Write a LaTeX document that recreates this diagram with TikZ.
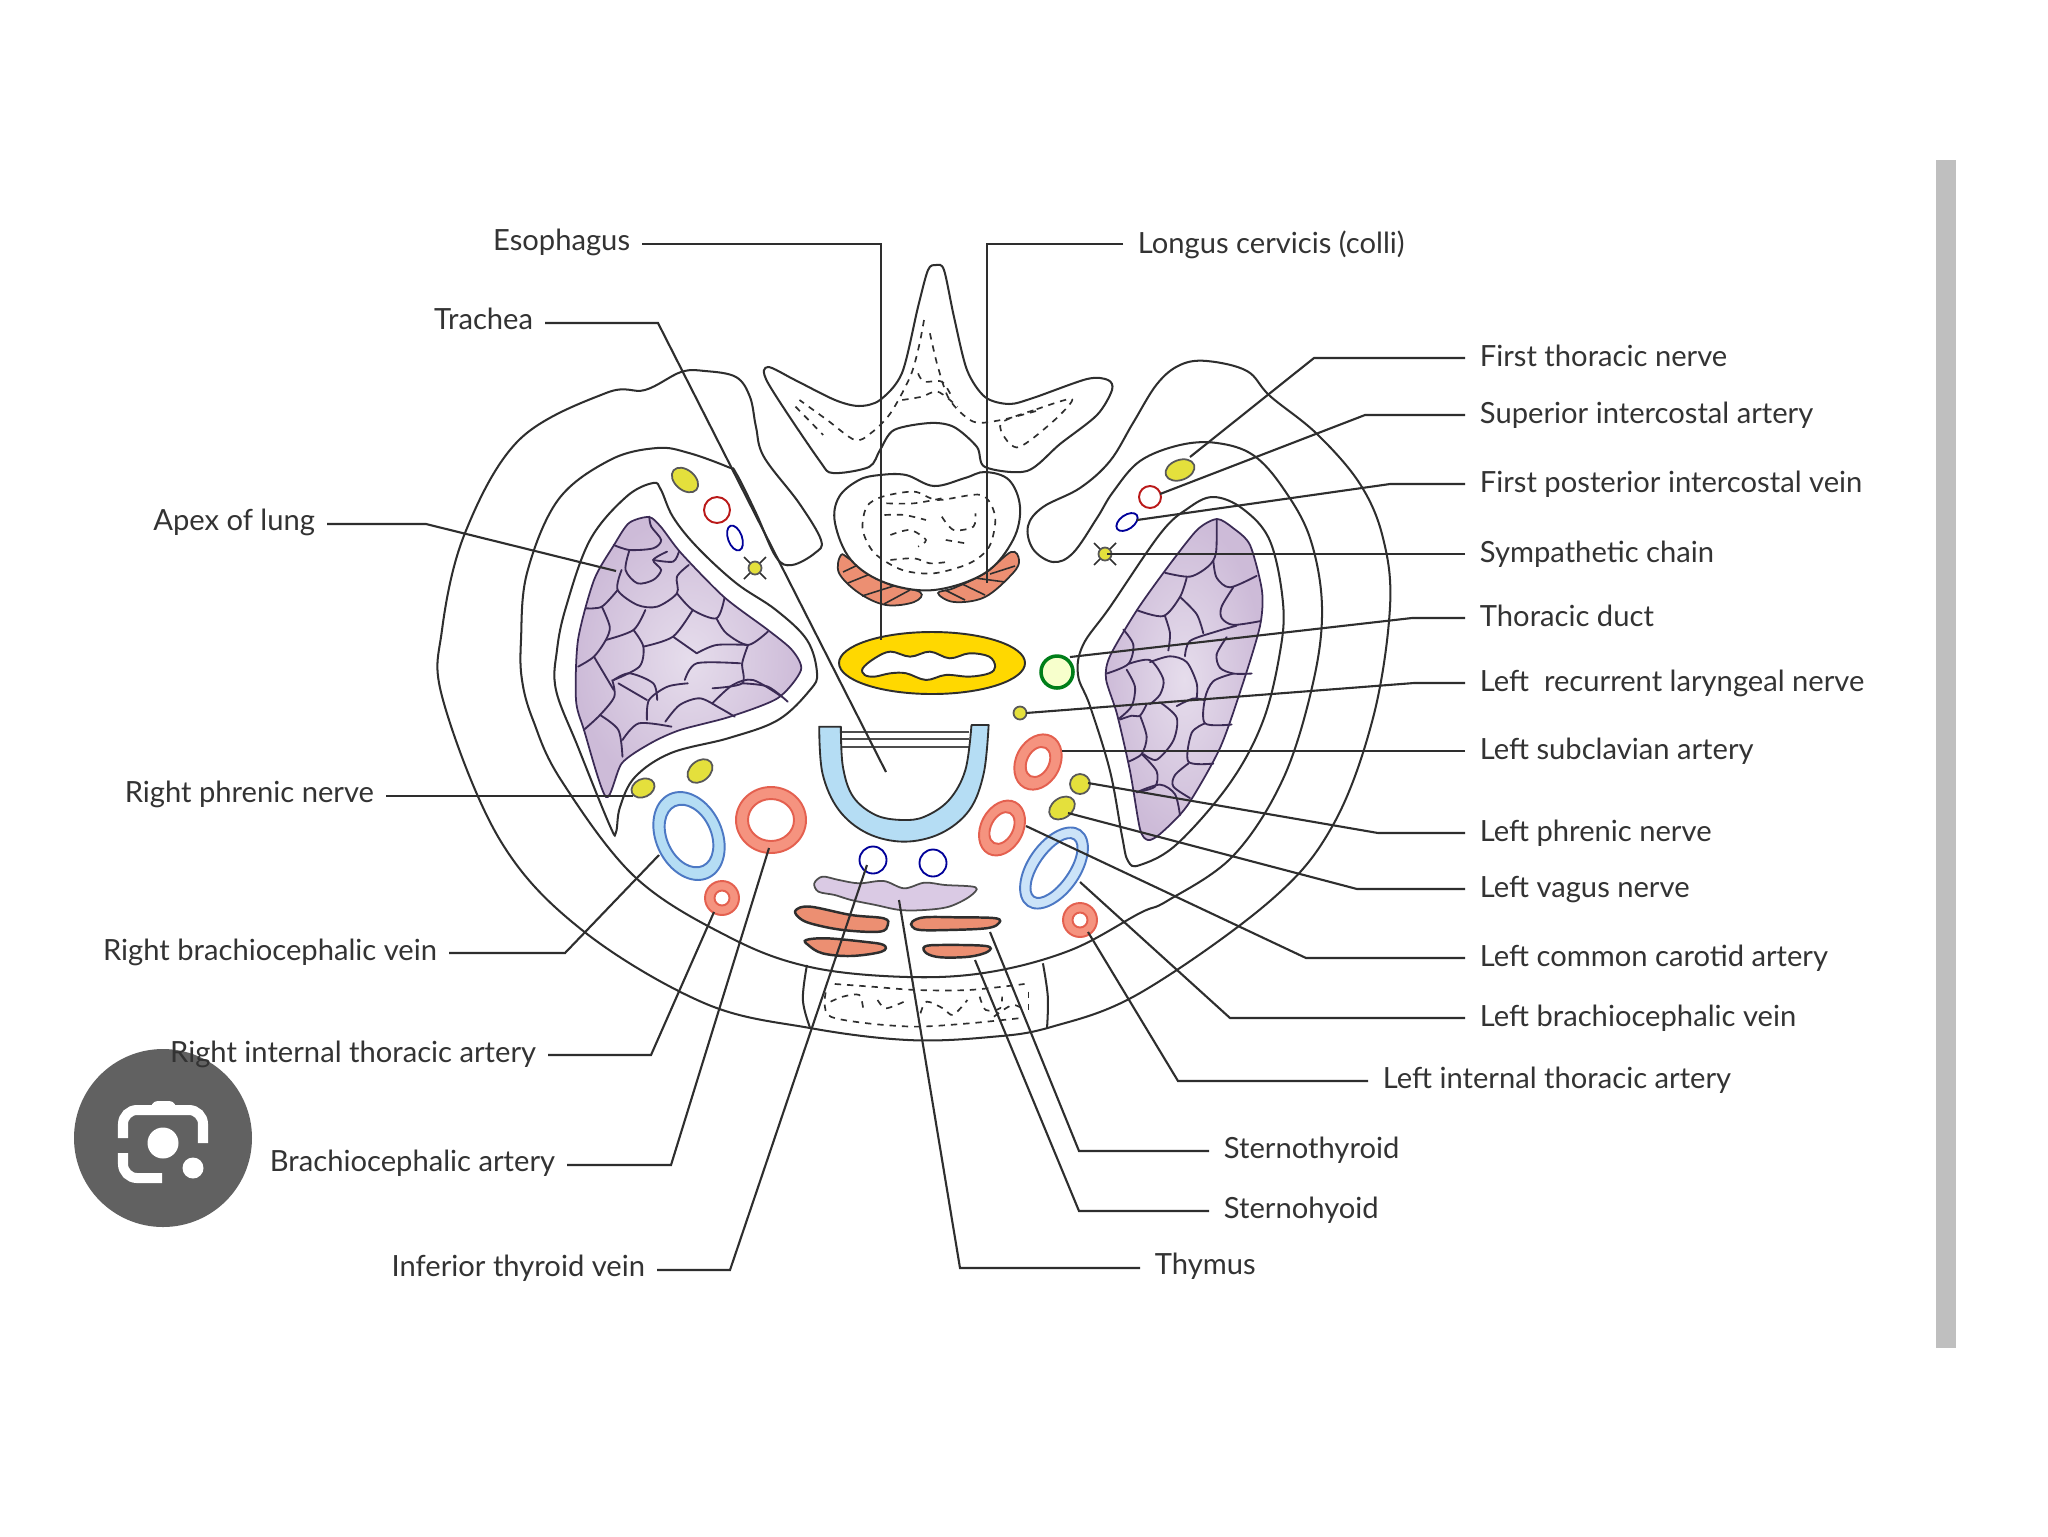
\documentclass[tikz,border=0pt]{standalone}
\usepackage{fontspec}
\setmainfont{Lato}
\definecolor{ink}{HTML}{2E2E2E}
\definecolor{txt}{HTML}{333333}
\definecolor{lungin}{HTML}{E6DDEC}
\definecolor{lungout}{HTML}{CDBBD8}
\definecolor{lobe}{HTML}{3B2B55}
\definecolor{redf}{HTML}{F5937F}
\definecolor{reds}{HTML}{E4604F}
\definecolor{bluef}{HTML}{B5DDF4}
\definecolor{blues}{HTML}{4C78C4}
\definecolor{paleb}{HTML}{CBE3F8}
\definecolor{nerve}{HTML}{E4E03C}
\definecolor{musc}{HTML}{EC8F72}
\definecolor{thym}{HTML}{DACAE4}
\definecolor{esoy}{HTML}{FFD800}
\tikzset{
  contour/.style={draw=ink,line width=1.15pt},
  lead/.style={draw=ink,line width=1.2pt,line join=miter},
  lobeline/.style={draw=lobe,line width=1.05pt,line cap=round},
  dashline/.style={draw=ink,line width=.95pt,dash pattern=on 3.6pt off 3.4pt},
  lr/.style={anchor=base west,inner sep=0pt,outer xsep=8.5pt,outer ysep=0pt,text=txt,font=\fontsize{16.6}{20}\selectfont},
  ll/.style={anchor=base east,inner sep=0pt,outer xsep=6.8pt,outer ysep=0pt,text=txt,font=\fontsize{16.6}{20}\selectfont},
  nrv/.style={fill=nerve,draw=ink!80,line width=1pt},
  thinv/.style={draw=#1,line width=1.05pt},
  cam/.style={draw=white,line width=5.7pt},
}
\newcommand{\vring}[9]{%
  \draw[fill=#8,draw=#9,line width=1.1pt] (#1,#2) ellipse [x radius=#3,y radius=#4,rotate=#5];
  \draw[fill=white,draw=#9,line width=1.1pt] (#1,#2) ellipse [x radius=#6,y radius=#7,rotate=#5];}
\newcommand{\symp}[2]{%
  \begin{scope}[shift={(#1,#2)}]
  \draw[ink,line width=.9pt] (-11,-11)--(11,11) (-11,11)--(11,-11);
  \draw[nrv] (0,0) circle [radius=6.5];
  \end{scope}}
\newcommand{\leadL}[3]{\draw[lead] (#1.east |- #2) -- (#2) -- (#3);}
\newcommand{\leadR}[3]{\draw[lead] (#1.west |- #2) -- (#2) -- (#3);}
\begin{document}
\begin{tikzpicture}[x=0.02cm,y=-0.02cm]
\useasboundingbox (0,0) rectangle (2048,1536);
\fill[white] (0,0) rectangle (2048,1536);
% screen bar
\fill[black!25] (1936,160) rectangle (1956,1348);

% --- main body contour (closed)
\draw[contour] plot[smooth cycle,tension=0.6] coordinates {
(756,513)(776,557)(792,565)(815,553)(821,540)(799,503)(764,457)(756,427)(750,397)(736,377)(705,371)(681,372)(645,390)(606,393)(519,440)(465,533)(442,630)(443,700)(500,840)(582,930)(704,1003)(810,1028)(908,1040)(990,1037)(1051,1027)(1140,993)(1270,901)(1333,825)(1373,718)(1390,607)(1383,538)(1360,484)(1317,434)(1270,396)(1247,371)(1207,361)(1180,365)(1157,384)(1133,423)(1110,461)(1080,488)(1043,507)(1028,526)(1033,549)(1053,562)(1073,553)(1097,518)(1113,492)(1140,461)(1180,445)(1217,443)(1253,455)(1283,488)(1310,538)(1322,607)(1313,683)(1283,779)(1233,856)(1167,901)(1140,913)(1071,950)(990,972)(908,977)(810,967)(729,937)(635,877)(561,780)(533,720)(522,680)(521,640)(527,573)(558,500)(610,460)(657,448)(689,453)(728,467)(736,473)};
% left pleura
\draw[contour] plot[smooth cycle,tension=0.6] coordinates {
(653,483)(661,490)(673,517)(697,547)(736,583)(776,610)(807,640)(817,673)(810,690)(778,720)(729,738)(671,753)(635,777)(620,807)(616,832)(610,826)(578,747)(556,690)(557,650)(566,607)(590,540)(626,497)};
% right pleura
\draw[contour] plot[smooth cycle,tension=0.6] coordinates {
(1213,497)(1187,509)(1160,534)(1110,607)(1083,645)(1078,675)(1090,706)(1110,771)(1122,836)(1128,861)(1140,865)(1177,844)(1230,783)(1263,721)(1280,652)(1283,603)(1270,541)(1243,509)};

% --- left lung
\shade[inner color=lungin,outer color=lungout,draw=lobe,line width=1pt] plot[smooth cycle,tension=0.45] coordinates {
(649,517)(629,523)(614,545)(594,580)(578,640)(576,700)(584,730)(606,797)(622,763)(651,743)(680,730)(729,717)(778,698)(801,670)(792,650)(768,630)(724,597)(681,553)(661,527)};
\begin{scope}[shift={(420,240)},xscale=0.3953,yscale=0.3333,lobeline]
\draw plot[smooth] coordinates {(490,915)(530,930)(590,925)(610,900)(585,860)(580,830)};
\draw plot[smooth] coordinates {(530,930)(520,990)(550,1030)(590,1020)(610,990)(590,960)(625,935)};
\draw plot[smooth] coordinates {(590,960)(640,965)(655,935)};
\draw plot[smooth] coordinates {(680,975)(650,1010)(650,1060)(600,1100)(550,1095)(500,1050)(510,990)};
\draw plot[smooth] coordinates {(500,1050)(460,1100)(420,1105)};
\draw plot[smooth] coordinates {(460,1100)(480,1160)(470,1200)(440,1250)(400,1280)};
\draw plot[smooth] coordinates {(470,1200)(540,1170)(570,1110)};
\draw plot[smooth] coordinates {(540,1170)(565,1220)(555,1280)(490,1320)};
\draw plot[smooth] coordinates {(565,1220)(640,1190)(690,1110)};
\draw plot[smooth] coordinates {(650,1060)(690,1110)(750,1135)(770,1075)};
\draw plot[smooth] coordinates {(750,1135)(775,1180)(830,1215)(880,1175)};
\draw plot[smooth] coordinates {(640,1190)(700,1240)};
\draw plot[smooth] coordinates {(830,1215)(815,1270)(815,1330)(740,1345)};
\draw plot[smooth] coordinates {(700,1240)(750,1215)(830,1215)};
\draw plot[smooth] coordinates {(670,1320)(700,1270)(810,1270)};
\draw plot[smooth] coordinates {(490,1320)(530,1300)(590,1330)(600,1380)};
\draw plot[smooth] coordinates {(440,1250)(490,1350)};
\draw plot[smooth] coordinates {(815,1330)(880,1340)(930,1385)};
\end{scope}
\begin{scope}[shift={(500,680)},xscale=0.4082,yscale=0.3333,lobeline]
\draw plot[smooth] coordinates {(205,150)(245,105)(280,50)(275,0)};
\draw plot[smooth] coordinates {(245,105)(290,150)(300,230)};
\draw plot[smooth] coordinates {(300,180)(340,130)(420,140)};
\draw plot[smooth] coordinates {(360,120)(365,60)(410,20)(460,10)};
\draw plot[smooth] coordinates {(405,125)(440,75)(490,55)(540,85)(575,110)};
\draw plot[smooth] coordinates {(360,60)(290,10)};
\draw plot[smooth] coordinates {(520,70)(570,15)(620,0)(690,50)};
\end{scope}

% --- right lung
\shade[inner color=lungin,outer color=lungout,draw=lobe,line width=1pt] plot[smooth cycle,tension=0.45] coordinates {
(1217,519)(1197,530)(1167,568)(1137,610)(1110,656)(1106,679)(1117,714)(1130,771)(1140,829)(1148,840)(1160,834)(1187,806)(1220,748)(1243,683)(1260,626)(1262,591)(1250,545)(1233,528)};
\begin{scope}[shift={(1000,300)},xscale=0.3333,yscale=0.3831,lobeline]
\draw plot[smooth] coordinates {(650,572)(648,660)(625,695)(570,722)(495,712)};
\draw plot[smooth] coordinates {(640,680)(650,725)(690,750)(770,720)};
\draw plot[smooth] coordinates {(700,750)(665,800)(665,830)(700,848)(782,838)};
\draw plot[smooth] coordinates {(560,725)(540,775)(490,825)(412,810)};
\draw plot[smooth] coordinates {(540,775)(590,820)(610,870)};
\draw plot[smooth] coordinates {(495,825)(510,870)(505,915)};
\draw plot[smooth] coordinates {(370,860)(400,900)(385,950)(320,975)};
\draw plot[smooth] coordinates {(385,950)(450,940)(490,990)(480,1030)(450,1055)};
\draw plot[smooth] coordinates {(380,965)(405,1010)(395,1060)(358,1092)};
\draw plot[smooth] coordinates {(450,945)(510,930)(560,945)(590,1000)(590,1040)};
\draw plot[smooth] coordinates {(555,930)(570,890)(650,865)(710,850)};
\draw plot[smooth] coordinates {(680,880)(650,925)(660,960)(700,975)(755,975)};
\draw plot[smooth] coordinates {(700,975)(640,995)(615,1040)(615,1105)(695,1108)};
\draw plot[smooth] coordinates {(480,1050)(530,1090)(520,1150)(470,1200)(430,1185)};
\draw plot[smooth] coordinates {(530,1060)(580,1040)(615,1045)};
\draw plot[smooth] coordinates {(615,1105)(575,1130)(565,1205)(640,1210)};
\draw plot[smooth] coordinates {(565,1210)(525,1240)(520,1270)(570,1300)};
\draw plot[smooth] coordinates {(440,1055)(420,1085)(395,1085)(360,1095)};
\draw plot[smooth] coordinates {(420,1085)(440,1140)(425,1185)(385,1205)};
\draw plot[smooth] coordinates {(425,1185)(470,1230)(465,1270)(410,1285)};
\draw plot[smooth] coordinates {(410,1285)(480,1265)(525,1290)(540,1345)};
\end{scope}

% --- muscles behind vertebral body
\draw[fill=musc,draw=ink,line width=1pt] plot[smooth cycle,tension=0.6] coordinates {(841,555)(839,573)(859,593)(886,605)(914,602)(920,592)(886,583)(851,560)};
\draw[fill=musc,draw=ink,line width=1pt] plot[smooth cycle,tension=0.6] coordinates {(938,593)(954,602)(985,597)(1013,573)(1019,560)(1011,552)(985,573)(954,588)};
\draw[ink,line width=.9pt] (843,572)--(862,563) (848,583)--(880,570) (862,596)--(900,584) (884,604)--(910,590);
\draw[ink,line width=.9pt] (1015,566)--(990,574) (1005,582)--(975,578) (985,595)--(958,582) (965,600)--(945,590);

% --- vertebra
\draw[contour,fill=white] plot[smooth cycle,tension=0.5] coordinates {
(768,367)(795,380)(835,400)(859,406)(880,400)(902,373)(918,307)(928,270)(936,265)(944,270)(954,317)(967,370)(985,397)(1009,404)(1033,398)(1087,379)(1108,380)(1112,390)(1097,415)(1060,444)(1027,471)(985,467)(977,447)(954,427)(930,423)(894,430)(880,450)(869,467)(833,473)(819,460)(768,383)};
\draw[contour,fill=white] plot[smooth cycle,tension=0.6] coordinates {
(880,475)(906,475)(934,486)(965,478)(985,472)(1009,480)(1020,507)(1013,540)(985,573)(934,590)(886,583)(851,560)(835,523)(839,497)(859,480)};
% dashed trabeculae
\begin{scope}[shift={(420,240)},xscale=0.3953,yscale=0.3333,dashline]
\draw plot[smooth] coordinates {(1275,240)(1262,320)(1240,410)(1190,520)(1140,580)(1100,600)(1030,540)(960,480)};
\draw plot[smooth] coordinates {(950,500)(1020,585)};
\draw plot[smooth] coordinates {(1290,280)(1310,380)(1340,480)(1400,545)(1470,540)(1568,510)};
\draw plot[smooth] coordinates {(1260,400)(1275,425)(1320,425)(1345,470)};
\draw plot[smooth] coordinates {(1220,480)(1270,470)(1310,455)(1360,500)};
\draw plot[smooth cycle] coordinates {(1170,770)(1250,755)(1310,780)(1420,765)(1455,830)(1440,920)(1390,970)(1300,1000)(1220,990)(1150,940)(1120,870)(1130,800)};
\draw plot[smooth] coordinates {(1175,825)(1225,825)(1280,840)};
\draw plot[smooth] coordinates {(1180,790)(1250,790)(1320,775)};
\draw plot[smooth] coordinates {(1190,885)(1240,870)(1280,900)(1260,920)};
\draw plot[smooth] coordinates {(1320,830)(1350,870)(1400,860)(1405,820)};
\draw plot[smooth] coordinates {(1330,900)(1380,910)};
\draw plot[smooth] coordinates {(1190,960)(1250,955)(1290,970)(1340,965)};
\end{scope}
\begin{scope}[shift={(1000,300)},xscale=0.3333,yscale=0.3831,dashline]
\draw plot[smooth cycle] coordinates {(5,320)(110,285)(215,258)(180,300)(100,360)(50,385)(15,360)};
\end{scope}

% --- oesophagus
\draw[fill=esoy,draw=ink,line width=1.1pt] (932,663) ellipse [x radius=93,y radius=31];
\begin{scope}[shift={(420,240)},xscale=0.3953,yscale=0.3333]
\draw[fill=white,draw=ink,line width=1.1pt] plot[smooth cycle,tension=0.6] coordinates {(1120,1285)(1150,1255)(1190,1235)(1240,1250)(1290,1235)(1340,1255)(1390,1240)(1440,1250)(1455,1280)(1440,1300)(1390,1310)(1330,1305)(1280,1320)(1230,1300)(1190,1300)(1150,1310)(1125,1305)};
\end{scope}

% --- anterior structures (zoom scale)
\begin{scope}[shift={(500,680)},xscale=0.4082,yscale=0.3333]
% trachea
\draw[draw=ink!85,line width=1pt] (835,155)--(1150,155) (835,178)--(1150,178) (835,202)--(1150,202);
\draw[fill=bluef,draw=ink,line width=1.05pt,line join=round] plot[smooth,tension=0.6] coordinates {(782,140)(790,280)(830,390)(900,460)(990,485)(1080,460)(1150,390)(1185,280)(1197,135)} -- plot[smooth,tension=0.6] coordinates {(1155,135)(1140,270)(1100,360)(1040,410)(985,420)(920,405)(865,350)(840,260)(835,140)} -- cycle;
% thymus
\draw[fill=thym,draw=ink!85,line width=1pt] plot[smooth cycle,tension=0.55] coordinates {(770,610)(790,590)(830,600)(880,610)(940,603)(990,625)(1040,608)(1090,615)(1165,622)(1150,650)(1100,680)(1040,690)(980,690)(920,675)(860,660)(820,645)(780,635)};
% strap muscles
\draw[fill=musc,draw=ink,line width=1.4pt] plot[smooth cycle,tension=0.6] coordinates {(725,690)(760,680)(860,705)(940,715)(950,735)(930,755)(840,750)(760,730)(730,710)};
\draw[fill=musc,draw=ink,line width=1.4pt] plot[smooth cycle,tension=0.6] coordinates {(750,780)(800,775)(890,785)(940,795)(935,815)(860,828)(790,820)(755,795)};
\draw[fill=musc,draw=ink,line width=1.4pt] plot[smooth cycle,tension=0.6] coordinates {(1010,725)(1040,712)(1120,712)(1215,715)(1220,732)(1190,745)(1100,750)(1030,750)(1010,740)};
\draw[fill=musc,draw=ink,line width=1.4pt] plot[smooth cycle,tension=0.6] coordinates {(1040,800)(1080,795)(1190,798)(1195,815)(1150,830)(1080,832)(1045,820)};
% manubrium
\draw[contour] plot[smooth,tension=0.6] coordinates {(752,855)(742,960)(760,1045)};
\draw[contour] plot[smooth,tension=0.6] coordinates {(1330,850)(1342,950)(1340,1045)};
\begin{scope}[dashline]
\draw plot[smooth,tension=0.5] coordinates {(820,912)(910,920)(1020,930)(1150,930)(1285,912)};
\draw (1295,935)--(1295,1000);
\draw plot[smooth,tension=0.5] coordinates {(1270,1015)(1150,1030)(1020,1040)(900,1030)(810,1010)(795,970)(800,925)};
\draw plot[smooth] coordinates {(810,965)(840,950)(880,945)(890,990)};
\draw plot[smooth] coordinates {(925,960)(945,985)(990,965)};
\draw plot[smooth] coordinates {(1030,1000)(1045,965)(1085,985)(1110,1005)(1145,960)};
\draw plot[smooth] coordinates {(1175,950)(1190,990)(1225,985)(1230,950)};
\draw plot[smooth] coordinates {(1210,1010)(1255,975)(1285,990)};
\end{scope}
\end{scope}

% --- vessels and nerves
\vring{689}{836}{46}{33}{-65}{33}{22}{bluef}{blues}
\vring{771}{820}{35}{33}{0}{23}{21}{redf}{reds}
\vring{722}{898}{17}{17}{0}{7.5}{7.5}{redf}{reds}
\vring{1002}{828}{29}{21}{62}{17}{11}{redf}{reds}
\vring{1038}{762}{29}{22}{62}{16}{11}{redf}{reds}
\vring{1054}{868}{46}{26}{55}{35}{15}{paleb}{blues}
\vring{1080}{920}{17}{17}{0}{7.5}{7.5}{redf}{reds}
\draw[thinv=blue!60!black] (873,860) circle [radius=13.5];
\draw[thinv=blue!60!black] (933,863) circle [radius=13.5];
\draw[nrv] (643,788) ellipse [x radius=12,y radius=9,rotate=25];
\draw[nrv] (700,771) ellipse [x radius=14,y radius=10,rotate=40];
\draw[nrv] (1080,784) circle [radius=10];
\draw[nrv] (1062,808) ellipse [x radius=14,y radius=10,rotate=35];
\draw[nrv] (1020,713) circle [radius=6.5];
\draw[nrv] (1180,470) ellipse [x radius=15,y radius=10,rotate=20];
\draw[nrv] (685,480) ellipse [x radius=15,y radius=10,rotate=-40];
\draw[thinv=red!70!black!90,line width=1.1pt] (1150,497) circle [radius=11];
\draw[thinv=red!70!black!90,line width=1.1pt] (717,510) circle [radius=13];
\draw[thinv=blue!60!black] (1127,522) ellipse [x radius=12,y radius=7,rotate=35];
\draw[thinv=blue!60!black] (735,538) ellipse [x radius=13,y radius=7,rotate=-70];
\symp{1105}{554}
\symp{755}{568}
\draw[draw=green!55!black!90!blue,fill=green!15!yellow!20!white,line width=2pt] (1057,672) circle [radius=16];

% --- camera badge
\fill[black!62] (163,1138) circle [radius=89];
\draw[cam,rounded corners=8pt] (123,1138)--(123,1110)--(203,1110)--(203,1143);
\fill[white,rounded corners=2pt] (148,1112)--(154,1101)--(173,1101)--(179,1112)--cycle;
\draw[cam,rounded corners=8pt] (123,1153)--(123,1178)--(162,1178);
\fill[white] (163,1143) circle [radius=15.5];
\fill[white] (193,1168) circle [radius=10.5];

% --- labels left
\node[ll] (lEso) at (642,250) {Esophagus};
\node[ll] (lTra) at (545,329) {Trachea};
\node[ll] (lApx) at (327,530) {Apex of lung};
\node[ll] (lRph) at (386,802) {Right phrenic nerve};
\node[ll] (lRbv) at (449,960) {Right brachiocephalic vein};
\node[ll] (lRit) at (548,1062) {Right internal thoracic artery};
\node[ll] (lBca) at (567,1171) {Brachiocephalic artery};
\node[ll] (lItv) at (657,1276) {Inferior thyroid vein};
% labels right
\node[lr] (lLcc) at (1123,253) {Longus cervicis (colli)};
\node[lr] (lFtn) at (1465,366) {First thoracic nerve};
\node[lr] (lSia) at (1465,423) {Superior intercostal artery};
\node[lr] (lFpv) at (1465,492) {First posterior intercostal vein};
\node[lr] (lSym) at (1465,562) {Sympathetic chain};
\node[lr] (lThd) at (1465,626) {Thoracic duct};
\node[lr] (lRln) at (1465,691) {Left\ \ recurrent laryngeal nerve};
\node[lr] (lLsa) at (1465,759) {Left subclavian artery};
\node[lr] (lLph) at (1465,841) {Left phrenic nerve};
\node[lr] (lLvg) at (1465,897) {Left vagus nerve};
\node[lr] (lLca) at (1465,966) {Left common carotid artery};
\node[lr] (lLbv) at (1465,1026) {Left brachiocephalic vein};
\node[lr] (lLit) at (1368,1088) {Left internal thoracic artery};
\node[lr] (lStt) at (1209,1158) {Sternothyroid};
\node[lr] (lSth) at (1209,1218) {Sternohyoid};
\node[lr] (lThy) at (1140,1274) {Thymus};

% --- leader targets
\coordinate (tEso) at (881,640);
\coordinate (tLcc) at (987,583);
\coordinate (tTra) at (886,772);
\coordinate (tApx) at (616,571);
\coordinate (tRph) at (633,796);
\coordinate (tRbv) at (659,855);
\coordinate (tRit) at (714,912);
\coordinate (tBca) at (769,848);
\coordinate (tItv) at (867,865);
\coordinate (tThy) at (899,900);
\coordinate (tSth) at (975,960);
\coordinate (tStt) at (990,932);
\coordinate (tLit) at (1088,932);
\coordinate (tLbv) at (1080,882);
\coordinate (tLca) at (1026,826);
\coordinate (tLvg) at (1068,813);
\coordinate (tLph) at (1088,783);
\coordinate (tLsa) at (1062,751);
\coordinate (tRln) at (1026,713);
\coordinate (tThd) at (1070,657);
\coordinate (tSym) at (1107,554);
\coordinate (tFpv) at (1137,520);
\coordinate (tSia) at (1160,494);
\coordinate (tFtn) at (1190,457);

% --- leaders
\leadL{lEso}{881,244}{tEso}
\leadL{lTra}{658,323}{tTra}
\leadL{lApx}{426,524}{tApx}
\leadL{lRph}{500,796}{tRph}
\leadL{lRbv}{565,953}{tRbv}
\leadL{lRit}{651,1055}{tRit}
\leadL{lBca}{671,1165}{tBca}
\leadL{lItv}{730,1270}{tItv}
\leadR{lLcc}{987,244}{tLcc}
\leadR{lFtn}{1314,358}{tFtn}
\leadR{lSia}{1365,415}{tSia}
\leadR{lFpv}{1390,484}{tFpv}
\leadR{lSym}{1300,554}{tSym}
\leadR{lThd}{1412,618}{tThd}
\leadR{lRln}{1414,683}{tRln}
\leadR{lLsa}{1300,751}{tLsa}
\leadR{lLph}{1378,833}{tLph}
\leadR{lLvg}{1357,889}{tLvg}
\leadR{lLca}{1306,958}{tLca}
\leadR{lLbv}{1230,1018}{tLbv}
\leadR{lLit}{1178,1081}{tLit}
\leadR{lStt}{1079,1151}{tStt}
\leadR{lSth}{1079,1211}{tSth}
\leadR{lThy}{960,1268}{tThy}
\end{tikzpicture}
\end{document}
